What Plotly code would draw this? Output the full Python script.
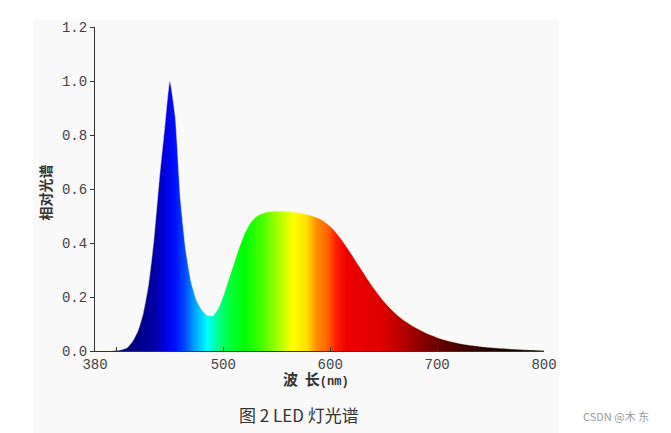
"""
LED spectrum figure: relative spectral power vs wavelength,
filled with a wavelength-coloured gradient.
"""
import plotly.graph_objects as go

# wavelength (nm) and relative spectrum
wavelength = [380, 395, 400, 405, 410, 415, 420, 425, 430, 435, 440, 445, 450,
              455, 460, 465, 470, 475, 480, 485, 490, 495, 500, 505, 510, 515,
              520, 525, 530, 535, 540, 545, 550, 555, 560, 565, 570, 575, 580,
              585, 590, 595, 600, 605, 610, 615, 620, 625, 630, 635, 640, 645,
              650, 655, 660, 665, 670, 675, 680, 685, 690, 695, 700, 710, 720,
              730, 740, 750, 760, 770, 780, 790, 800]
relative = [0.0, 0.0, 0.002, 0.005, 0.012, 0.035, 0.073, 0.138, 0.245, 0.41,
            0.63, 0.82, 1.0, 0.87, 0.56, 0.37, 0.255, 0.188, 0.152, 0.132, 0.13,
            0.155, 0.205, 0.265, 0.325, 0.385, 0.435, 0.472, 0.495, 0.507, 0.514,
            0.517, 0.518, 0.518, 0.517, 0.515, 0.512, 0.508, 0.504, 0.498,
            0.49, 0.478, 0.462, 0.441, 0.416, 0.388, 0.358, 0.327, 0.297, 0.266,
            0.237, 0.21, 0.185, 0.163, 0.143, 0.126, 0.111, 0.098, 0.086, 0.076,
            0.066, 0.058, 0.05, 0.038, 0.029, 0.022, 0.017, 0.013, 0.01, 0.007,
            0.005, 0.004, 0.002]

# colour stops along the wavelength axis (nm, colour)
spectrum_nm = [380, 415, 435, 445, 455, 465, 473, 485, 495, 505, 520, 535, 550,
               565, 578, 587, 598, 605, 615, 650, 670, 690, 715, 745, 790, 800]
spectrum_col = ["#000060", "#000080", "#0000a0", "#0000dd", "#0010ff", "#0050ff",
                "#00a0ff", "#00ffff", "#00ff90", "#00ff40", "#00ff00", "#40ff00",
                "#a0ff00", "#ffff00", "#ffe000", "#ff9000", "#ff6000", "#ff2000",
                "#ee0000", "#dd0000", "#b00000", "#800000", "#500000", "#200000",
                "#000000", "#000000"]

x_ticks = [380, 400, 500, 600, 700, 800]
x_labels = ["380", "", "500", "600", "700", "800"]
y_ticks = [0.0, 0.2, 0.4, 0.6, 0.8, 1.0, 1.2]

lo, hi = spectrum_nm[0], spectrum_nm[-1]
colorscale = [[(w - lo) / (hi - lo), c] for w, c in zip(spectrum_nm, spectrum_col)]

fig = go.Figure()
fig.add_trace(go.Scatter(
    x=wavelength, y=relative, mode="lines", fill="tozeroy",
    line=dict(width=0.6, color="rgba(255,240,200,0.8)", shape="spline", smoothing=0.5),
    fillgradient=dict(type="horizontal", colorscale=colorscale, start=lo, stop=hi),
    hoverinfo="x+y", showlegend=False,
))

tick_font = dict(family="Liberation Mono, Courier New, monospace", size=14, color="#444444")
axis_common = dict(showline=True, linecolor="#333333", linewidth=1, showgrid=False,
                   zeroline=False, ticklen=4, tickcolor="#333333", tickfont=tick_font)

fig.update_xaxes(range=[380, 800], tickvals=x_ticks, ticktext=x_labels,
                 ticks="inside", **axis_common)
fig.update_yaxes(range=[0, 1.2], tickvals=y_ticks, tickformat=".1f",
                 ticks="outside", **axis_common)

cjk = "Noto Sans CJK SC"
# the page has an 8px body margin, so the figure is 8px smaller than the window
fig.update_layout(
    width=663, height=425,
    margin=dict(l=87, r=127, t=14, b=82),
    paper_bgcolor="white", plot_bgcolor="rgba(0,0,0,0)",
    shapes=[dict(type="rect", xref="paper", yref="paper", x0=-0.138, x1=1.0334,
                 y0=-0.26, y1=1.024, fillcolor="#f9f9f9", line=dict(width=0),
                 layer="below")],
    annotations=[
        dict(text="<b>相对光谱</b>", x=-0.111, y=0.49, xref="paper", yref="paper",
             xanchor="center", yanchor="middle", textangle=-90, showarrow=False,
             font=dict(family=cjk, size=14, color="#333333")),
        dict(text="<b>波  长</b><span style='font-family:Liberation Mono;font-size:12px'>"
                  "<b>(nm)</b></span>",
             x=0.492, y=-0.085, xref="paper", yref="paper", xanchor="center",
             yanchor="middle", showarrow=False,
             font=dict(family=cjk, size=15, color="#333333")),
        dict(text="图 2 LED 灯光谱", x=0.454, y=-0.195, xref="paper", yref="paper",
             xanchor="center", yanchor="middle", showarrow=False,
             font=dict(family=cjk, size=17, color="#333333")),
        dict(text="CSDN @木 东", x=1.161, y=-0.2, xref="paper", yref="paper",
             xanchor="center", yanchor="middle", showarrow=False,
             font=dict(family=cjk, size=11, color="#999999")),
    ],
)

fig.write_html("out.html")
